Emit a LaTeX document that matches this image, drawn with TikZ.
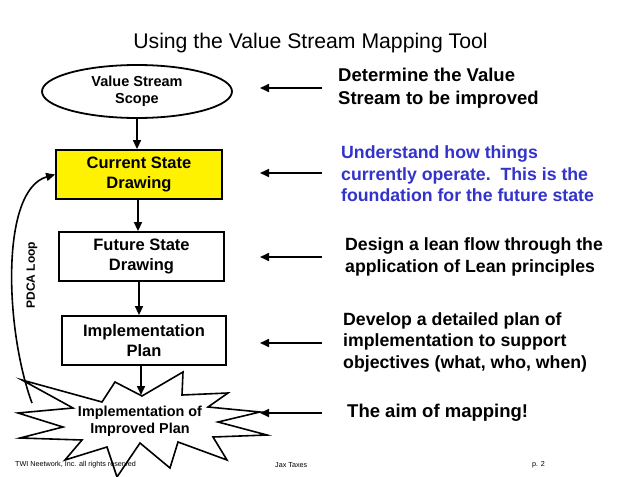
\documentclass[tikz,border=0pt]{standalone}
\usepackage{fontspec}
\setmainfont{Liberation Sans}
\usetikzlibrary{shapes.geometric,arrows.meta}
\definecolor{textblue}{RGB}{51,51,204}
\begin{document}
\begin{tikzpicture}[x=1pt,y=-1pt,
  arr/.style={line width=1.6pt,-{Triangle[length=9pt,width=8pt]}},
  stepbox/.style={draw,line width=1.8pt,minimum width=165pt,minimum height=49pt,inner sep=0pt,align=center,font=\bfseries\fontsize{16.5}{20.5}\selectfont},
  rtext/.style={anchor=west,align=left,inner sep=0pt,font=\bfseries\fontsize{17.7}{21.5}\selectfont},
  foot/.style={anchor=west,inner sep=0pt,font=\fontsize{7.2}{8}\selectfont}]
\useasboundingbox (0,0) rectangle (638,477);
\fill[white] (0,0) rectangle (638,477);

% title
\node[inner sep=0pt,font=\fontsize{21.2}{24}\selectfont] (title) at (310.5,43) {Using the Value Stream Mapping Tool};

% left column
\node[draw,ellipse,line width=1.8pt,minimum width=190pt,minimum height=53pt,inner sep=0pt,align=center,font=\bfseries\fontsize{14.5}{17}\selectfont] (scope) at (137,91.5) {Value Stream\\Scope};
\node[stepbox,fill=yellow,minimum width=166pt] (cur) at (139,174.5) {Current State\\Drawing};
\node[stepbox] (fut) at (141.5,256.5) {Future State\\Drawing};
\node[stepbox,minimum width=164pt] (impl) at (144,340.5) {Implementation\\Plan};

% starburst
\draw[line width=1.6pt,fill=white,line join=miter] (22,380) -- (102,402) -- (115,382) -- (142,396) -- (183,372) -- (182,395) -- (228,393) -- (208,407) -- (260,412) -- (218,422) -- (267,435) -- (213,437) -- (227,460) -- (178,442) -- (170,468) -- (140,443) -- (117,477) -- (107,447) -- (65,460) -- (82,440) -- (20,438) -- (63,427) -- (18,413) -- (73,408) -- cycle;
\node[inner sep=0pt,align=center,font=\bfseries\fontsize{14.4}{17}\selectfont] (star) at (140,421.5) {Implementation of\\Improved Plan};
\coordinate (startop) at (141,395);

% vertical arrows
\draw[arr] (scope.south) -- (scope.south |- cur.north);
\draw[arr] ([xshift=-1pt]cur.south) -- ([xshift=-1pt]cur.south |- fut.north);
\draw[arr] ([xshift=-2.5pt]fut.south) -- ([xshift=-2.5pt]fut.south |- impl.north);
\draw[arr] (impl.south -| startop) -- (startop);

% PDCA loop
\coordinate (loopstart) at (32,403);
\draw[line width=1.6pt,-{Triangle[length=9pt,width=8pt]}] (loopstart) .. controls (5,330) and (0,190) .. (cur.west);
\node[rotate=90,inner sep=0pt,font=\bfseries\fontsize{12}{14}\selectfont] (pdca) at (32,275) {PDCA Loop};

% right texts
\node[rtext,font=\bfseries\fontsize{18.5}{23}\selectfont] (t1) at (338,88.5) {Determine the Value\\Stream to be improved};
\node[rtext,text=textblue] (t2) at (341,174) {Understand how things\\currently operate.\ \ This is the\\foundation for the future state};
\node[rtext] (t3) at (345,257) {Design a lean flow through the\\application of Lean principles};
\node[rtext] (t4) at (343,342) {Develop a detailed plan of\\implementation to support\\objectives (what, who, when)};
\node[rtext,font=\bfseries\fontsize{18.5}{23}\selectfont] (t5) at (347,413) {The aim of mapping!};

% right arrows
\foreach \i/\y in {1/88,2/173,3/257,4/343,5/413}{
  \coordinate (as\i) at (322,\y);
  \coordinate (ae\i) at (260,\y);
  \draw[arr] (as\i) -- (ae\i);
}

% footer
\node[foot] (f1) at (15,465) {TWI Neetwork, Inc. all rights reserved};
\node[foot] (f2) at (275,465) {Jax Taxes};
\node[foot] (f3) at (532,465) {p. 2};
\end{tikzpicture}
\end{document}
